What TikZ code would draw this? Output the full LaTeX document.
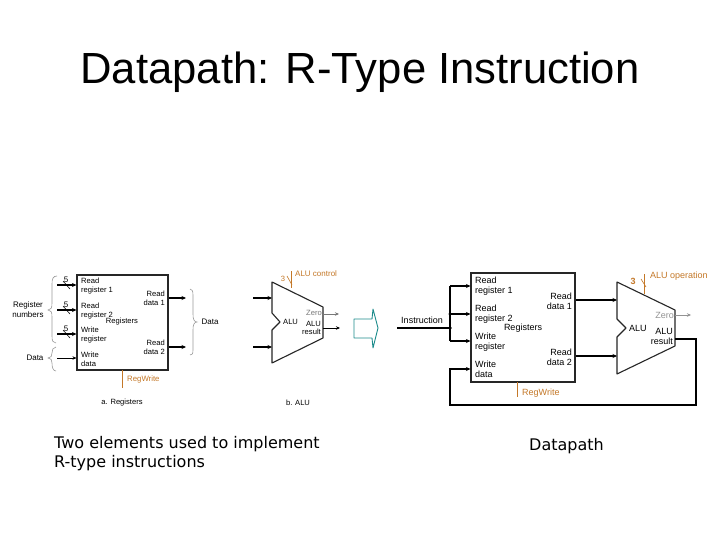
\documentclass[tikz,border=0pt]{standalone}
\usepackage{fontspec}
\setmainfont{Liberation Sans}
\newfontfamily\bodyfont{DejaVu Sans}
\usetikzlibrary{arrows.meta}
\definecolor{ctlorange}{RGB}{196,120,40}
\definecolor{wireteal}{RGB}{30,140,140}
\definecolor{zerogray}{RGB}{120,120,120}
\tikzset{
  x=1pt,y=-1pt,
  titletext/.style={inner sep=0pt,font=\fontsize{43.6}{50}\selectfont},
  bodytext/.style={inner sep=0pt,align=left,anchor=north west,font=\bodyfont\fontsize{16}{19}\selectfont},
  smalla/.style={inner sep=0pt,align=left,anchor=west,font=\fontsize{7.6}{8.8}\selectfont},
  smallr/.style={inner sep=0pt,align=right,anchor=east,font=\fontsize{7.6}{8.8}\selectfont},
  smallc/.style={inner sep=0pt,align=center,font=\fontsize{7.6}{9}\selectfont},
  labelc/.style={inner sep=0pt,align=center,font=\fontsize{8}{10}\selectfont},
  biga/.style={inner sep=0pt,align=left,anchor=west,font=\fontsize{9}{10}\selectfont},
  bigr/.style={inner sep=0pt,align=right,anchor=east,font=\fontsize{9}{10}\selectfont},
  bigc/.style={inner sep=0pt,align=center,font=\fontsize{9}{10}\selectfont},
  unit/.style={draw=black!85,line width=1.1pt},
  wire/.style={draw=black,line width=0.9pt,-{Stealth[length=4pt,width=3.5pt]}},
  thick wire/.style={draw=black,line width=1.7pt,-{Stealth[length=4.5pt,width=4pt]}},
  loopwire/.style={draw=black,line width=1.7pt},
  tick/.style={draw=black,line width=0.6pt},
  ctl/.style={draw=ctlorange,line width=0.9pt},
  ctltext/.style={inner sep=0pt,text=ctlorange,anchor=west},
  brace/.style={draw=black!40,line width=0.6pt},
  junction/.style={circle,fill=black,inner sep=0pt,minimum size=3.5pt},
}
\begin{document}
\begin{tikzpicture}
\useasboundingbox (0,0) rectangle (720,540);
\fill[white] (0,0) rectangle (720,540);
\node[titletext] (title) at (360,72) {Datapath: R-Type Instruction};
\node[bodytext] (cap1) at (54,436) {Two elements used to implement\\R-type instructions};
\node[bodytext] (cap2) at (529,438) {Datapath};

% a. Registers
\node[unit,minimum width=91pt,minimum height=95pt,inner sep=0pt] (rega) at (122.5,322.5) {};
\node[smalla] (a1) at (81,286) {Read\\register 1};
\node[smalla] (a2) at (81,311) {Read\\register 2};
\node[smalla] (a3) at (81,335) {Write\\register};
\node[smalla] (a4) at (81,359) {Write\\data};
\node[smallr] (a5) at (165,298) {Read\\data 1};
\node[smallr] (a6) at (165,347) {Read\\data 2};
\node[smallc] (a7) at (122,322) {Registers};
\node[labelc] (numbers) at (28,310) {Register\\numbers};
\node[labelc] (adata) at (35,358) {Data};
\node[labelc] (odata) at (210,322) {Data};
\node[smallc] (acap) at (122,403) {a. Registers};
\node[ctltext,font=\fontsize{7.8}{9}\selectfont] (arw) at (127,379) {RegWrite};
\draw[ctl] (122,370) -- (122,388);

\coordinate (i1) at (57,285); \coordinate (i2) at (57,310); \coordinate (i3) at (57,334); \coordinate (i4) at (57,358);
\draw[thick wire] (i1) -- (rega.west |- i1);
\draw[thick wire] (i2) -- (rega.west |- i2);
\draw[thick wire] (i3) -- (rega.west |- i3);
\draw[wire] (i4) -- (rega.west |- i4);
\foreach \y/\n in {285/t1,310/t2,334/t3}{
  \draw[tick] (63,\y-4) -- (70,\y+4);
  \node[inner sep=0pt,font=\fontsize{8}{9}\selectfont] (\n) at (66,\y-5.5) {5};
}
\coordinate (o1) at (186,298); \coordinate (o2) at (186,347);
\draw[thick wire] (rega.east |- o1) -- (o1);
\draw[thick wire] (rega.east |- o2) -- (o2);
% braces
\draw[brace] (57,276) .. controls (53,276) and (52,279) .. (52,284) -- (52,303) .. controls (52,308) and (51,310) .. (48,310) .. controls (51,310) and (52,312) .. (52,317) -- (52,336) .. controls (52,341) and (53,343) .. (56,343);
\draw[brace] (56,347) .. controls (53,347) and (52,350) .. (52,353) .. controls (52,356) and (51,358) .. (48,358) .. controls (51,358) and (52,360) .. (52,363) .. controls (52,367) and (53,371) .. (56,371);
\draw[brace] (190,289) .. controls (192,289) and (193,291) .. (193,295) -- (193,314) .. controls (193,319) and (194,322) .. (197,322) .. controls (194,322) and (193,325) .. (193,330) -- (193,350) .. controls (193,354) and (192,355) .. (190,355);

% b. ALU
\coordinate (b1) at (272,282); \coordinate (b2) at (323,307); \coordinate (b3) at (323,338); \coordinate (b4) at (272,363);
\draw[unit,line join=round] (b1) -- (b2) -- (b3) -- (b4) -- (272,330) -- (280,322) -- (272,313) -- cycle;
\node[smalla] (balu) at (283,322) {ALU};
\node[inner sep=0pt,anchor=east,text=zerogray,font=\fontsize{7.6}{9}\selectfont] (bzero) at (322,313) {Zero};
\node[smallr] (bres) at (321,328) {ALU\\result};
\node[smallc] (bcap) at (298,403) {b. ALU};
\node[ctltext,font=\fontsize{8}{9}\selectfont] (bctl) at (295,274) {ALU control};
\node[inner sep=0pt,text=ctlorange,font=\fontsize{7.6}{9}\selectfont] (bthree) at (283,279) {3};
\draw[ctl] (291,271) -- (291,288);
\draw[ctl,line width=0.6pt] (287,276) -- (292,285);
\coordinate (bi1) at (253,298); \coordinate (bi2) at (253,347);
\draw[thick wire] (bi1) -- (bi1 -| b1);
\draw[thick wire,line width=1.3pt] (bi2) -- (bi2 -| b1);
\coordinate (bz) at (339,314); \coordinate (br) at (340,328);
\draw[wire,draw=zerogray,line width=0.7pt] (b2 |- bz) -- (bz);
\draw[wire] (b2 |- br) -- (br);

% block arrow
\draw[draw=wireteal,line width=0.9pt,line join=round] (354,319) -- (372,319) -- (373,309) -- (378,328) -- (373,348) -- (372,338) -- (354,338) -- cycle;

% Datapath
\node[bigc] (instr) at (422,320) {Instruction};
\node[unit,minimum width=104pt,minimum height=109pt,inner sep=0pt] (regb) at (523,327.5) {};
\node[biga] (b1t) at (475,286.5) {Read\\register 1};
\node[biga] (b2t) at (475,314.5) {Read\\register 2};
\node[biga] (b3t) at (475,342) {Write\\register};
\node[biga] (b4t) at (475,369.5) {Write\\data};
\node[bigr] (b5t) at (572,301) {Read\\data 1};
\node[bigr] (b6t) at (572,357) {Read\\data 2};
\node[bigc] (b7t) at (523,328) {Registers};
\node[ctltext,font=\fontsize{9}{10}\selectfont] (brw) at (522,393) {RegWrite};
\draw[ctl] (517,382) -- (517,397);

\coordinate (in) at (397,328);
\coordinate (bus) at (450,328);
\coordinate (busT) at (450,286); \coordinate (busB) at (450,341); \coordinate (busM) at (450,314);
\draw[loopwire] (in) -- (bus);
\draw[loopwire] (busT) -- (busB);
\draw[thick wire] (busT) -- (busT -| regb.west);
\draw[thick wire] (busM) -- (busM -| regb.west);
\draw[thick wire] (busB) -- (busB -| regb.west);
\node[junction] (j1) at (bus) {};
\node[junction] (j2) at (busM) {};

\coordinate (c1) at (617,282); \coordinate (c2) at (675,310); \coordinate (c3) at (675,346); \coordinate (c4) at (617,374);
\draw[unit,line join=round] (c1) -- (c2) -- (c3) -- (c4) -- (617,337) -- (626,328) -- (617,319) -- cycle;
\node[biga] (calu) at (629,328) {ALU};
\node[inner sep=0pt,anchor=east,text=zerogray!80,font=\fontsize{9}{10}\selectfont] (czero) at (674,315) {Zero};
\node[bigr] (cres) at (673,336) {ALU\\result};
\node[ctltext,font=\fontsize{9}{10}\selectfont] (cctl) at (650,276) {ALU operation};
\node[inner sep=0pt,text=ctlorange,font=\bfseries\fontsize{9}{10}\selectfont] (cthree) at (633,281) {3};
\draw[ctl] (644,274) -- (644,294);
\draw[ctl,line width=0.6pt] (641,279) -- (646,287);

\coordinate (d1) at (617,300); \coordinate (d2) at (617,356);
\draw[thick wire,line width=1.2pt] (regb.east |- d1) -- (d1);
\draw[thick wire,line width=1.2pt] (regb.east |- d2) -- (d2);
\coordinate (zz) at (691,315);
\draw[wire,draw=zerogray!80,line width=0.6pt] (c2 |- zz) -- (zz);
\coordinate (l1) at (696,339); \coordinate (l2) at (696,405); \coordinate (l3) at (450,405); \coordinate (l4) at (450,369);
\draw[thick wire] (c3 |- l1) -- (l1) -- (l2) -- (l3) -- (l4) -- (l4 -| regb.west);
\end{tikzpicture}
\end{document}
